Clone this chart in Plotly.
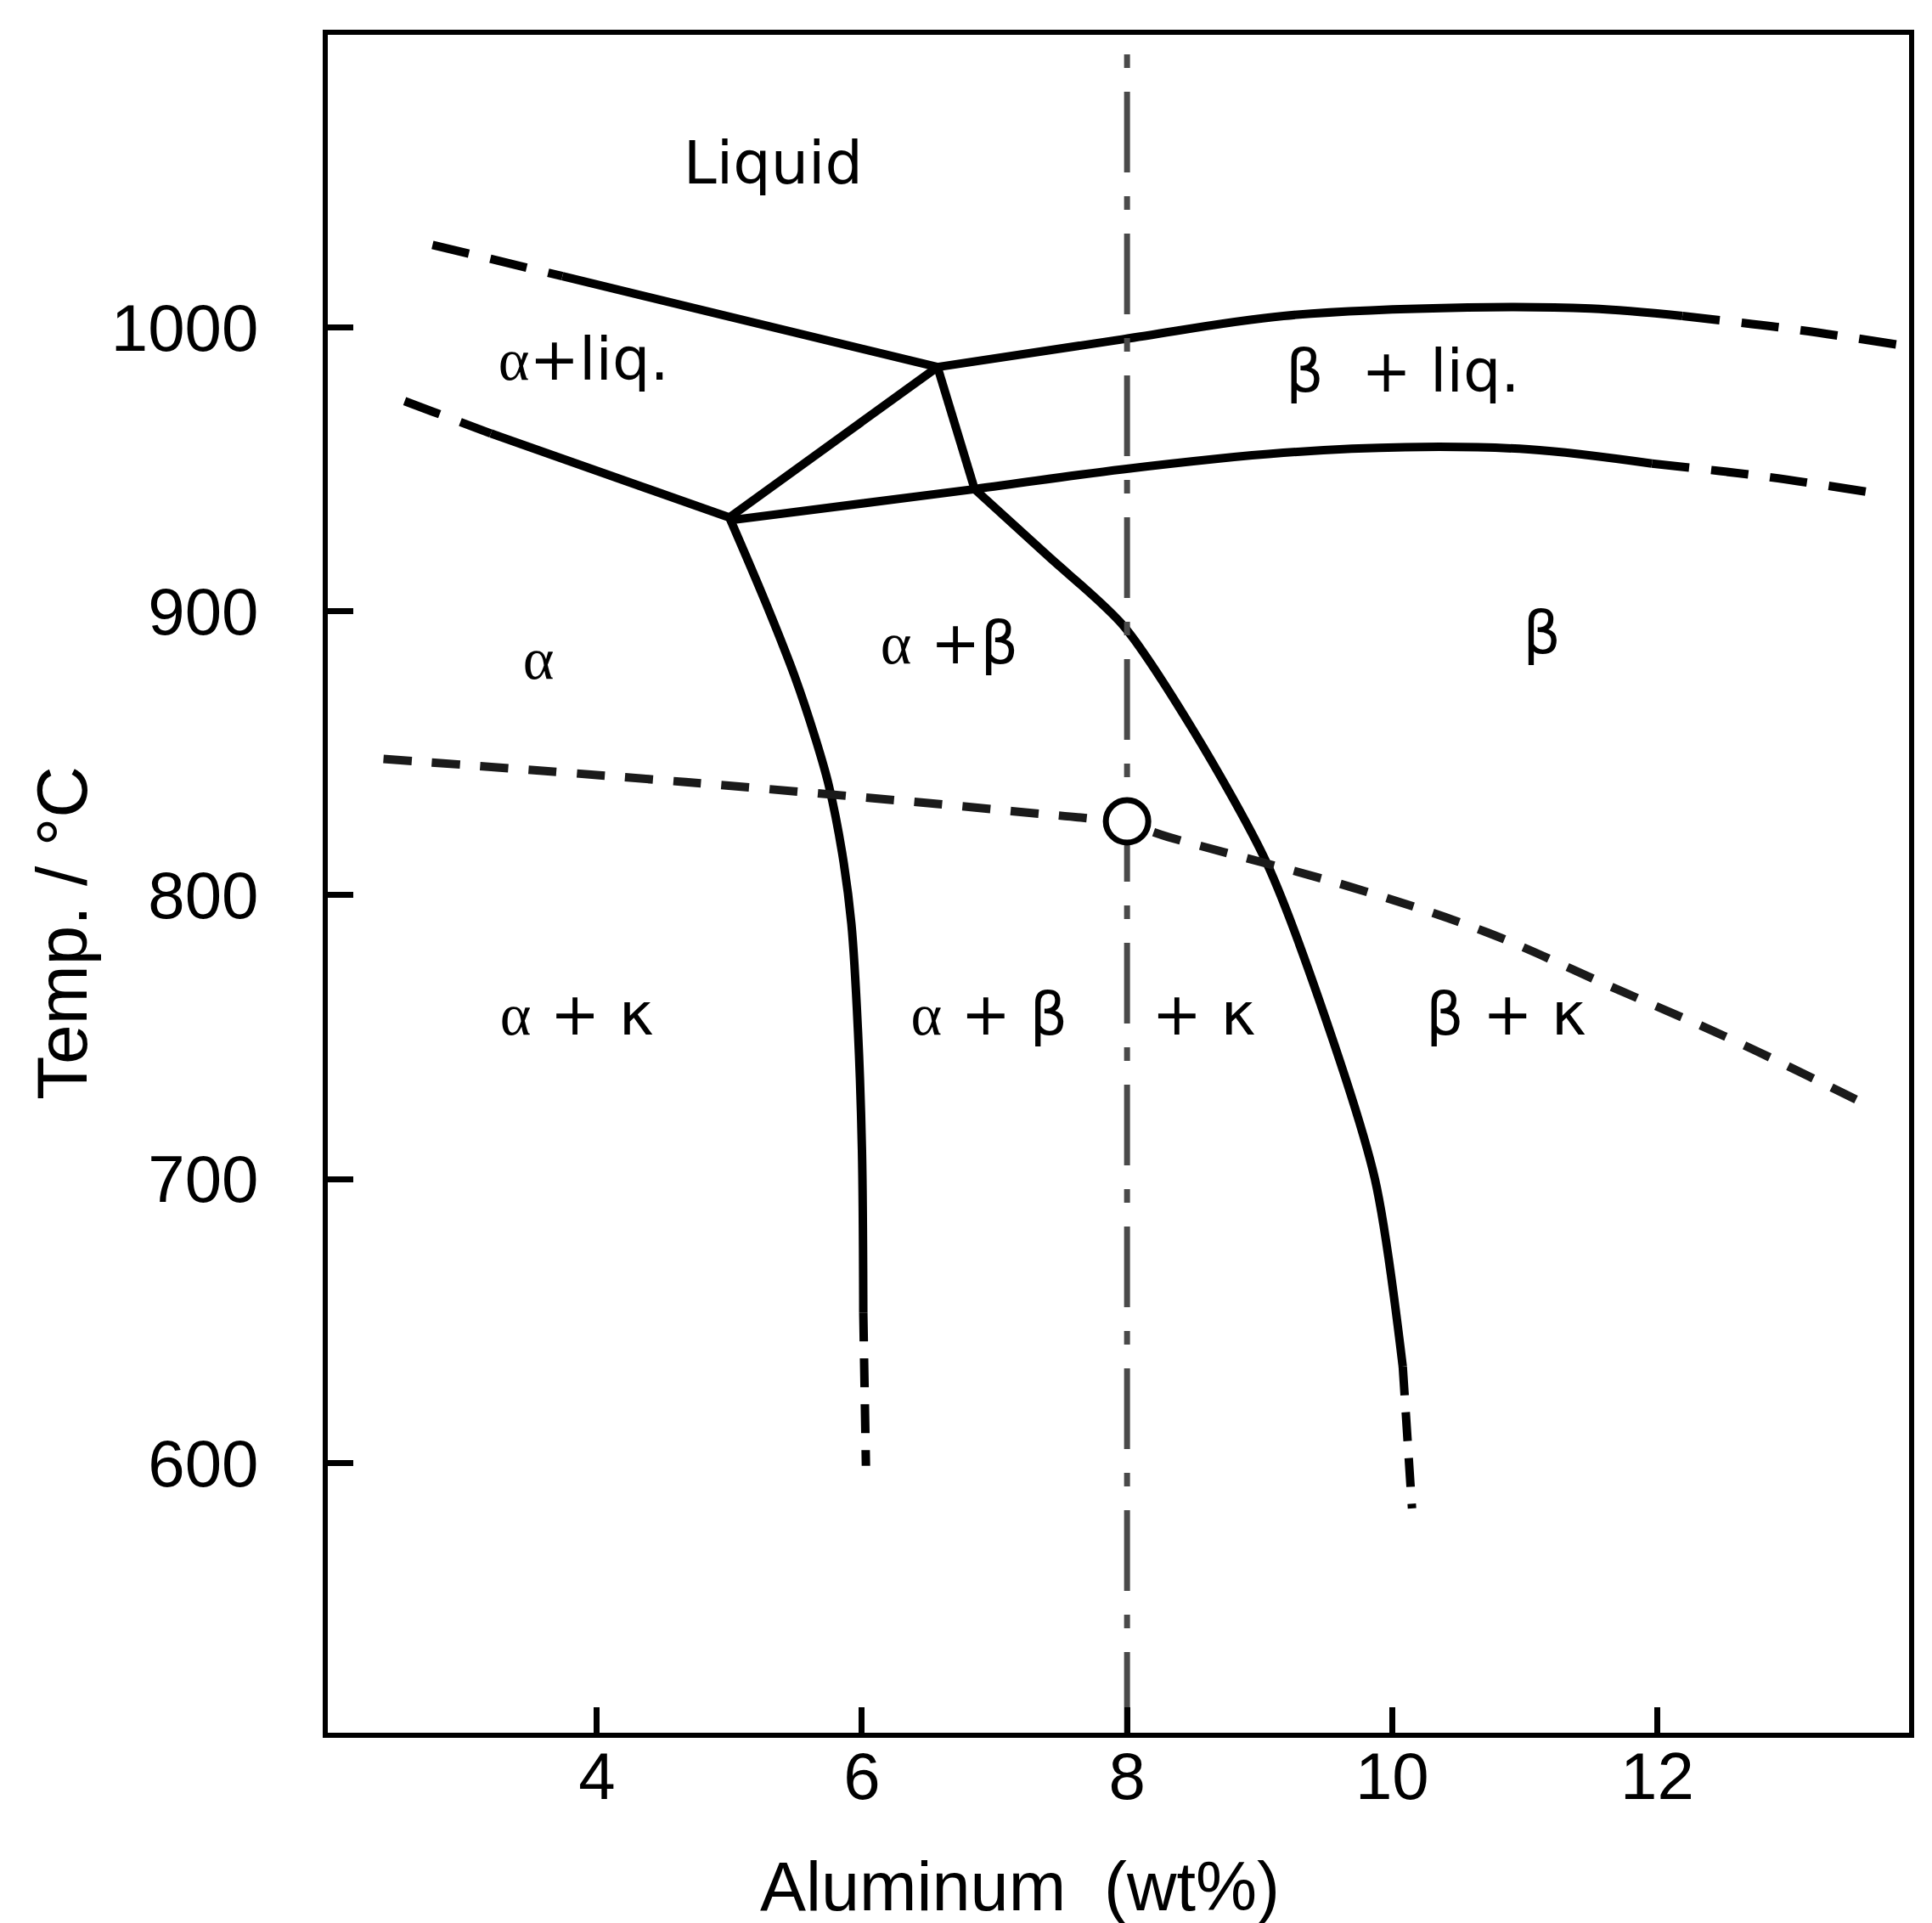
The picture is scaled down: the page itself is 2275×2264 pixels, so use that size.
import plotly.graph_objects as go

# ---------------- data ----------------
# alpha liquidus
liqA_dash_x = [2.76, 3.74]
liqA_dash_y = [1029, 1018]
liqA_x = [3.74, 6.57]
liqA_y = [1018, 986]
# alpha solidus
solA_dash_x = [2.55, 3.20]
solA_dash_y = [974, 962.6]
solA_x = [3.20, 5.0]
solA_y = [962.6, 933]
# tie line alpha vertex -> upper vertex
tieA_x = [5.0, 6.57]
tieA_y = [933, 986]
# upper vertex -> peritectic point
tieB_x = [6.57, 6.85]
tieB_y = [986, 943]
# beta solidus (from alpha vertex through peritectic point)
solB_x = [5.0, 6.85, 7.97, 9.18, 10.1, 11.03, 11.96]
solB_y = [932, 943, 950, 955.8, 957.8, 957, 952]
solB_dash_x = [11.96, 12.8, 13.63]
solB_dash_y = [952, 947.5, 941.7]
# beta liquidus
liqB_x = [6.57, 7.97, 9.18, 10.57, 11.5, 12.19]
liqB_y = [986, 995.8, 1004, 1007, 1006.6, 1004]
liqB_dash_x = [12.19, 13.0, 13.84]
liqB_dash_y = [1004, 999.5, 993.7]
# (alpha+beta)/beta boundary
bndB_x = [6.85, 7.4, 7.97, 8.5, 9.05, 9.45, 9.87, 10.08]
bndB_y = [943, 919.6, 895, 858, 811.7, 763, 700, 634]
bndB_dash_x = [10.08, 10.15]
bndB_dash_y = [634, 584]
# alpha/(alpha+beta) boundary
bndA_x = [5.0, 5.27, 5.49, 5.65, 5.75, 5.85, 5.92, 5.97, 6.0, 6.01]
bndA_y = [933, 903.4, 877.4, 855, 838.6, 815, 790, 752, 710, 653]
bndA_dash_x = [6.01, 6.03]
bndA_dash_y = [653, 599]
# kappa solvus (dashed)
kap_x = [2.39, 4.67, 7.13, 8.0, 8.31, 9.70, 10.72, 11.64, 12.57, 13.5]
kap_y = [848, 839.8, 829.6, 825, 820.5, 802.7, 786.8, 768, 749, 728]
# alloy composition line and marked point
alloy_x = 8.0
alloy_T = 826

# region labels
lab_x = [5.33, 3.9, 10.08, 3.56, 6.66, 11.13, 3.85, 6.96, 8.58, 10.86]
lab_y = [1056, 986.8, 982.7, 881.6, 887, 890.6, 756, 756, 756, 756]
SER = "<span style='font-family:\"Liberation Serif\", serif'>"
lab_t = [
    "Liquid",
    SER + "α</span>+liq.",
    "β  + liq.",
    SER + "α</span>",
    SER + "α</span> +β",
    "β",
    SER + "α</span> + κ",
    SER + "α</span> + β",
    "+ κ",
    "β + κ",
]

x_ticks = [4, 6, 8, 10, 12]
y_ticks = [600, 700, 800, 900, 1000]
x_title = "Aluminum  (wt%)"
y_title = "Temp. / °C"

# ---------------- figure ----------------
fig = go.Figure()
LW = 10
solid = dict(color="black", width=LW)
longdash = dict(color="black", width=LW, dash="44px,26px")
SANS = "Liberation Sans, Arial, sans-serif"


def add(x, y, line, shape="linear", smoothing=1.0):
    ln = dict(**line, shape=shape)
    if shape == "spline":
        ln["smoothing"] = smoothing
    fig.add_trace(go.Scatter(x=x, y=y, mode="lines", line=ln,
                             showlegend=False, hoverinfo="skip"))


add(liqA_dash_x, liqA_dash_y, longdash)
add(liqA_x, liqA_y, solid)
add(solA_dash_x, solA_dash_y, longdash)
add(solA_x, solA_y, solid)
add(tieA_x, tieA_y, solid)
add(tieB_x, tieB_y, solid)
add(solB_x, solB_y, solid, "spline")
add(solB_dash_x, solB_dash_y, longdash, "spline")
add(liqB_x, liqB_y, solid, "spline")
add(liqB_dash_x, liqB_dash_y, longdash, "spline")
add(bndB_x, bndB_y, solid, "spline", 0.8)
add(bndB_dash_x, bndB_dash_y, dict(color="black", width=LW, dash="34px,20px"))
add(bndA_x, bndA_y, solid, "spline")
add(bndA_dash_x, bndA_dash_y, dict(color="black", width=LW, dash="34px,20px"))
add(kap_x, kap_y, dict(color="#1a1a1a", width=10, dash="33px,24px"), "spline")

# vertical dash-dot line at the alloy composition
fig.add_trace(go.Scatter(x=[alloy_x, alloy_x], y=[505, 1103], mode="lines",
                         line=dict(color="#4a4a4a", width=7, dash="95px,28px,16px,28px"),
                         showlegend=False, hoverinfo="skip"))
# marked point
fig.add_trace(go.Scatter(x=[alloy_x], y=[alloy_T], mode="markers",
                         marker=dict(symbol="circle", size=50, color="white",
                                     line=dict(color="black", width=7)),
                         showlegend=False, hoverinfo="skip"))

# region labels
fig.add_trace(go.Scatter(x=lab_x, y=lab_y, mode="text", text=lab_t,
                         textfont=dict(family="DejaVu Sans, sans-serif", size=70, color="black"),
                         textposition="middle center", showlegend=False, hoverinfo="skip"))

axis_common = dict(showgrid=False, zeroline=False, showline=True, linecolor="black",
                   linewidth=6, mirror=True, ticks="inside", ticklen=30, tickwidth=7,
                   tickcolor="black",
                   tickfont=dict(family=SANS, size=78, color="black"))

fig.update_xaxes(range=[1.97, 13.9], tickvals=x_ticks, ticktext=[str(v) for v in x_ticks],
                 ticklabelstandoff=-22, **axis_common)
fig.update_yaxes(range=[505, 1103], tickvals=y_ticks, ticktext=[str(v) for v in y_ticks],
                 ticklabelstandoff=60, **axis_common)

# axis titles placed where the reference has them
fig.add_annotation(text=x_title, xref="paper", yref="paper", x=0.4377, y=-0.0905,
                   xanchor="center", yanchor="middle", showarrow=False,
                   font=dict(family=SANS, size=81, color="black"))
fig.add_annotation(text=y_title, xref="paper", yref="paper", x=-0.1681, y=0.4712,
                   xanchor="center", yanchor="middle", textangle=-90, showarrow=False,
                   font=dict(family=SANS, size=84, color="black"))

fig.update_layout(width=2275, height=2264, margin=dict(l=378, r=35, t=33, b=232),
                  paper_bgcolor="white", plot_bgcolor="white")

fig.write_html("out.html")
